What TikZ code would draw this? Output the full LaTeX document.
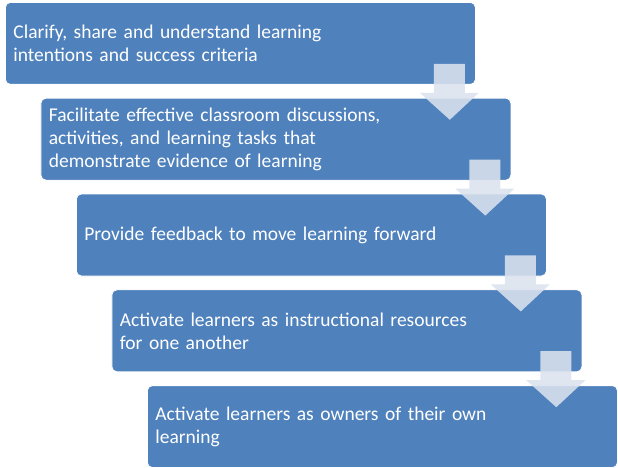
\documentclass[tikz,border=0pt]{standalone}
\usepackage{fontspec}
\setmainfont{Carlito}
\usetikzlibrary{positioning}
\definecolor{boxblue}{RGB}{79,129,189}
\definecolor{arrowblue}{RGB}{219,226,238}
\def\Shift{35.5pt}

\begin{document}
\begin{tikzpicture}[% styles for all boxes and arrows
			stepbox/.style={
				rectangle,rounded corners=5pt,
				draw=white,line width=0.8pt,fill=boxblue,
				text=white,align=left,
				text width=454pt,inner xsep=8pt,inner ysep=0pt,
				minimum height=82pt,
				font=\fontsize{19.5pt}{23pt}\selectfont
			},
			downarrow/.style={fill=arrowblue,fill opacity=0.88,draw=none}
		]
		\useasboundingbox (0,0) rectangle (618pt,-468pt);
		\node[stepbox,anchor=north west](R1) at (5pt,-2pt){Clarify, share and understand learning\\intentions and success criteria};
		\node[stepbox,below=13pt of R1.south west,anchor=north west,xshift=\Shift](R2){Facilitate effective classroom discussions,\\activities, and learning tasks that\\demonstrate evidence of learning};
		\node[stepbox,below=13pt of R2.south west,anchor=north west,xshift=\Shift](R3){Provide feedback to move learning forward};
		\node[stepbox,below=13pt of R3.south west,anchor=north west,xshift=\Shift](R4){Activate learners as instructional resources\\for one another};
		\node[stepbox,below=13pt of R4.south west,anchor=north west,xshift=\Shift](R5){Activate learners as owners of their own\\learning};
		% block arrows from each box down to the next
		\foreach \a in {R1,R2,R3,R4}{
			\fill[downarrow] ([shift={(-42pt,21pt)}]\a.south east) -- ++(31pt,0) -- ++(0,-29pt) -- ++(14pt,0)
				-- ++(-29pt,-27pt) -- ++(-30pt,27pt) -- ++(14pt,0) -- cycle;
		}
	\end{tikzpicture}
\end{document}
